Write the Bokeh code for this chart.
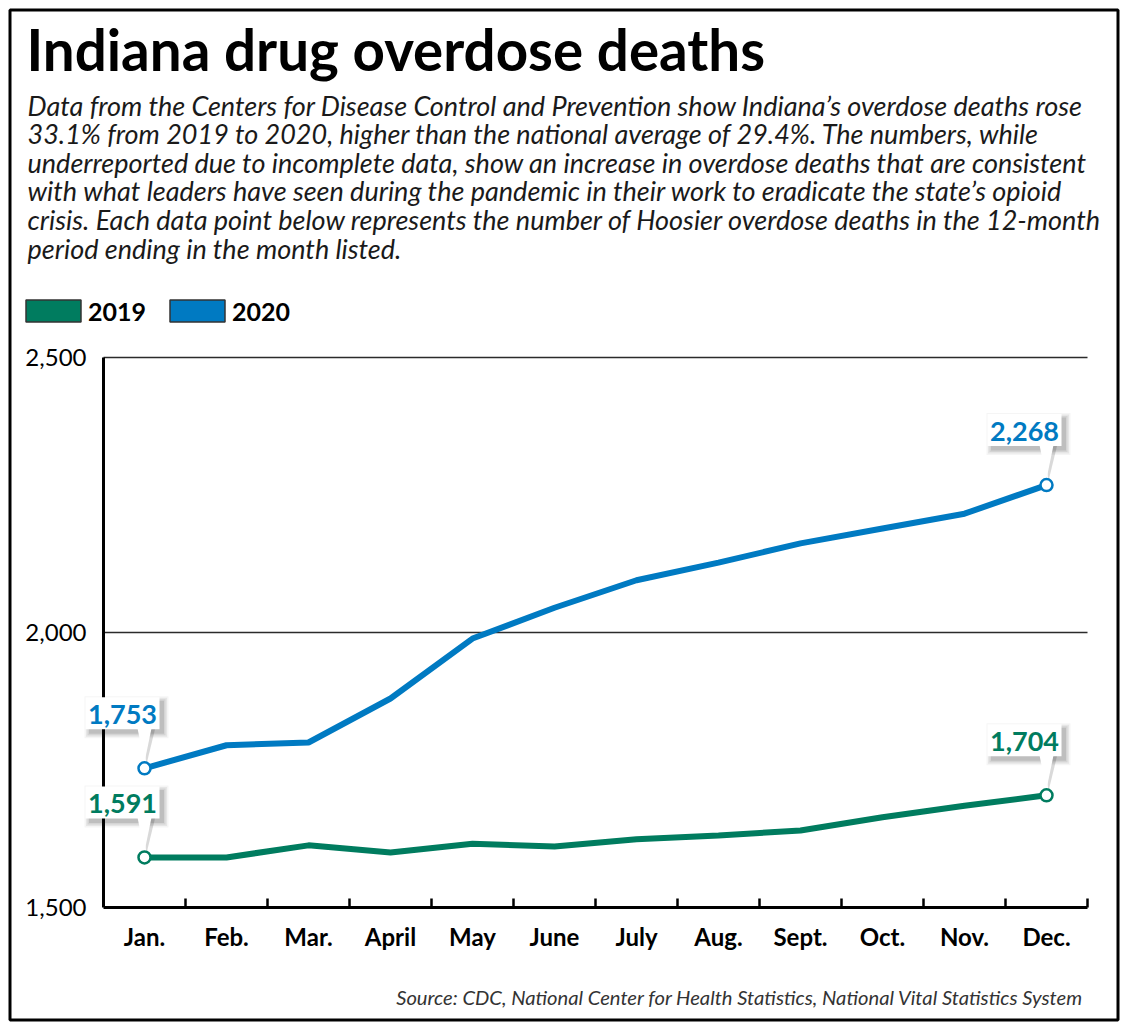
from bokeh.plotting import figure
from bokeh.models import FixedTicker, Label, BoxAnnotation
from bokeh.core.properties import value
from bokeh.embed import file_html
from bokeh.resources import INLINE

# ---- data -------------------------------------------------------------
months = ["Jan.", "Feb.", "Mar.", "April", "May", "June",
          "July", "Aug.", "Sept.", "Oct.", "Nov.", "Dec."]
deaths_2019 = [1591, 1591, 1613, 1600, 1616, 1611, 1624, 1631, 1640, 1664, 1685, 1704]
deaths_2020 = [1753, 1795, 1800, 1880, 1989, 2045, 2095, 2127, 2162, 2189, 2216, 2268]
y_ticks = [1500, 2000, 2500]
y_tick_labels = ["1,500", "2,000", "2,500"]
years = ["2019", "2020"]

title = "Indiana drug overdose deaths"
intro = [
    "Data from the Centers for Disease Control and Prevention show Indiana\u2019s overdose deaths rose",
    "33.1% from 2019 to 2020, higher than the national average of 29.4%. The numbers, while",
    "underreported due to incomplete data, show an increase in overdose deaths that are consistent",
    "with what leaders have seen during the pandemic in their work to eradicate the state\u2019s opioid",
    "crisis. Each data point below represents the number of Hoosier overdose deaths in the 12-month",
    "period ending in the month listed.",
]
source = "Source: CDC, National Center for Health Statistics, National Vital Statistics System"

# ---- style / layout ---------------------------------------------------
GREEN = "#007C5F"
BLUE = "#007AC2"
FONT = "Lato"
W, H = 1127, 1027
FL, FR, FT, FB = 103, 1087, 357, 907          # chart area edges on the canvas (px)
X0, X1 = 0.5, 12.5                            # month extent of the chart area
Y0, Y1 = y_ticks[0], y_ticks[-1]
PXX = (FR - FL) / (X1 - X0)                   # px per month
PXY = (FB - FT) / (Y1 - Y0)                   # px per death


def sx(px):
    return px


def sy(py):
    return H - py


xs = list(range(1, 13))

# the frame fills the whole canvas; axes sit at fixed locations inside it
p = figure(width=W, height=H,
           x_range=(X0 - FL / PXX, X1 + (W - FR) / PXX),
           y_range=(Y0 - (H - FB) / PXY, Y1 + FT / PXY),
           min_border=0, title=None,
           output_backend="svg", toolbar_location=None,
           outline_line_color=None, background_fill_color="white",
           border_fill_color="white")
p.xgrid.visible = False
p.ygrid.visible = False

# gridlines across the chart area
p.segment(x0=[X0] * 2, x1=[X1] * 2, y0=y_ticks[1:], y1=y_ticks[1:],
          line_color="#2b2b2b", line_width=1.5)

# axes
xa = p.xaxis[0]
xa.fixed_location = Y0
xa.bounds = (X0, X1)
xa.ticker = FixedTicker(ticks=xs, minor_ticks=[x + 0.5 for x in xs])
xa.major_label_overrides = {x: m for x, m in zip(xs, months)}
xa.major_tick_in = 0
xa.major_tick_out = 0
xa.minor_tick_in = 9
xa.minor_tick_out = 0
xa.minor_tick_line_color = "black"
xa.minor_tick_line_width = 2.5
xa.axis_line_color = "black"
xa.axis_line_width = 3
xa.major_label_text_font = FONT
xa.major_label_text_font_style = "bold"
xa.major_label_text_font_size = "24px"
xa.major_label_text_color = "black"
xa.major_label_standoff = 14

ya = p.yaxis[0]
ya.fixed_location = X0
ya.bounds = (Y0, Y1)
ya.ticker = FixedTicker(ticks=y_ticks)
ya.major_label_overrides = {t: s for t, s in zip(y_ticks, y_tick_labels)}
ya.major_tick_in = 0
ya.major_tick_out = 0
ya.minor_tick_line_color = None
ya.axis_line_color = "black"
ya.axis_line_width = 3
ya.major_label_text_font = FONT
ya.major_label_text_font_size = "24px"
ya.major_label_text_color = "black"
ya.major_label_standoff = 17

# series lines
p.line(xs, deaths_2019, line_width=6, line_color=GREEN)
p.line(xs, deaths_2020, line_width=6, line_color=BLUE)

# callouts on first and last month of each series
callouts = []
for vals, col in ((deaths_2019, GREEN), (deaths_2020, BLUE)):
    callouts.append((xs[0], vals[0], col))
    callouts.append((xs[-1], vals[-1], col))

BOX_W, BOX_H = 74, 32
BOX_DX, BOX_DY = -22, 55      # box centre relative to the point (px, up)
TIP_DY = 6
BASE_DY = BOX_DY - BOX_H / 2
LVL = "annotation"

for m, v, col in callouts:
    bx = m + BOX_DX / PXX
    by = v + BOX_DY / PXY
    # soft shadow
    for grow, a in ((10, 0.04), (7, 0.06), (4, 0.08), (1, 0.1)):
        p.rect(x=[bx + 4 / PXX], y=[by - 4 / PXY], width=BOX_W + grow, height=BOX_H + grow,
               width_units="screen", height_units="screen",
               fill_color="black", fill_alpha=a, line_color=None, level=LVL)
    p.patch(x=[m - 3 / PXX, m + 11 / PXX, m + 2 / PXX],
            y=[v + (BASE_DY + 2) / PXY, v + (BASE_DY + 2) / PXY, v + (TIP_DY - 2) / PXY],
            fill_color="black", fill_alpha=0.15, line_color=None, level=LVL)
    # box and pointer
    p.rect(x=[bx], y=[by], width=BOX_W, height=BOX_H,
           width_units="screen", height_units="screen",
           fill_color="white", line_color=None, level=LVL)
    p.patch(x=[m - 7 / PXX, m + 7 / PXX, m],
            y=[v + (BASE_DY + 1) / PXY, v + (BASE_DY + 1) / PXY, v + TIP_DY / PXY],
            fill_color="white", line_color=None, level=LVL)
    p.scatter(x=[m], y=[v], size=12, marker="circle", fill_color="white",
              line_color=col, line_width=2.5, level=LVL)
    p.text(x=[m], y=[v], text=[f"{v:,}"], x_offset=BOX_DX, y_offset=-BOX_DY + 1,
           text_align="center", text_baseline="middle",
           text_font=value(FONT), text_font_style="bold",
           text_font_size="27px", text_color=col, level=LVL)

# legend: colour swatch + year
for (left, col), year in zip(((25.5, GREEN), (169.5, BLUE)), years):
    p.add_layout(BoxAnnotation(left=sx(left), right=sx(left + 55), top=sy(299.5), bottom=sy(321.5),
                               left_units="screen", right_units="screen",
                               top_units="screen", bottom_units="screen",
                               fill_color=col, fill_alpha=1,
                               line_color="#333333", line_alpha=1, line_width=1.5))
    p.add_layout(Label(x=sx(left + 62), y=sy(311), x_units="screen", y_units="screen",
                       text=year, text_font=FONT, text_font_style="bold",
                       text_font_size="25px", text_color="black",
                       text_baseline="alphabetic"))

# header texts
p.add_layout(Label(x=sx(26), y=sy(48), x_units="screen", y_units="screen", text=title,
                   text_font=FONT, text_font_style="bold", text_font_size="56.5px",
                   text_color="black", text_baseline="alphabetic"))
for i, line in enumerate(intro):
    p.add_layout(Label(x=sx(27), y=sy(104.5 + 28.6 * i), x_units="screen", y_units="screen",
                       text=line, text_font=FONT, text_font_style="italic",
                       text_font_size="27px", text_color="#1a1a1a",
                       text_baseline="alphabetic"))
p.add_layout(Label(x=sx(1083), y=sy(996), x_units="screen", y_units="screen", text=source,
                   text_font=FONT, text_font_style="italic", text_font_size="20.2px",
                   text_color="#333333", text_align="right", text_baseline="alphabetic"))

# outer frame
p.add_layout(BoxAnnotation(left=sx(9.5), right=sx(1117.5), top=sy(9.5), bottom=sy(1019.5),
                           left_units="screen", right_units="screen",
                           top_units="screen", bottom_units="screen",
                           fill_alpha=0, line_color="black", line_alpha=1, line_width=3))

open("out.html", "w").write(file_html(p, INLINE))
